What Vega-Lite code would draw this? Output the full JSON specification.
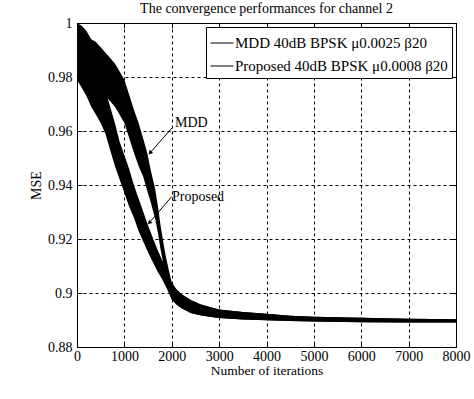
{
  "$schema": "https://vega.github.io/schema/vega-lite/v6.json",
  "width": 379,
  "height": 324,
  "autosize": {"type": "none"},
  "padding": {"left": 77, "top": 23, "right": 18, "bottom": 52},
  "background": "white",
  "title": {"text": "The convergence performances for channel 2", "font": "Liberation Serif", "fontSize": 14, "fontWeight": "normal", "color": "black", "offset": 0},
  "config": {
    "view": {"stroke": "black", "strokeWidth": 1},
    "axis": {
      "labelFont": "Liberation Serif", "titleFont": "Liberation Serif",
      "labelFontSize": 14, "titleFontSize": 14, "titleFontWeight": "normal",
      "labelColor": "black", "titleColor": "black",
      "domain": false, "gridColor": "black", "gridDash": [3, 3], "gridOpacity": 1, "gridWidth": 1,
      "tickColor": "black", "tickSize": -5, "tickWidth": 1
    }
  },
  "datasets": {
    "curves": [
      {"s": "Proposed", "x": 0, "y": 0.989, "lo": 0.979, "hi": 0.998},
      {"s": "Proposed", "x": 100, "y": 0.986, "lo": 0.976, "hi": 0.995},
      {"s": "Proposed", "x": 200, "y": 0.983, "lo": 0.973, "hi": 0.992},
      {"s": "Proposed", "x": 300, "y": 0.979, "lo": 0.969, "hi": 0.988},
      {"s": "Proposed", "x": 400, "y": 0.975, "lo": 0.966, "hi": 0.983},
      {"s": "Proposed", "x": 500, "y": 0.972, "lo": 0.963, "hi": 0.980},
      {"s": "Proposed", "x": 600, "y": 0.967, "lo": 0.959, "hi": 0.975},
      {"s": "Proposed", "x": 700, "y": 0.961, "lo": 0.953, "hi": 0.969},
      {"s": "Proposed", "x": 800, "y": 0.955, "lo": 0.947, "hi": 0.963},
      {"s": "Proposed", "x": 900, "y": 0.949, "lo": 0.942, "hi": 0.956},
      {"s": "Proposed", "x": 1000, "y": 0.944, "lo": 0.937, "hi": 0.951},
      {"s": "Proposed", "x": 1100, "y": 0.939, "lo": 0.932, "hi": 0.946},
      {"s": "Proposed", "x": 1200, "y": 0.934, "lo": 0.928, "hi": 0.940},
      {"s": "Proposed", "x": 1300, "y": 0.929, "lo": 0.923, "hi": 0.935},
      {"s": "Proposed", "x": 1400, "y": 0.9245, "lo": 0.919, "hi": 0.930},
      {"s": "Proposed", "x": 1500, "y": 0.920, "lo": 0.915, "hi": 0.925},
      {"s": "Proposed", "x": 1600, "y": 0.916, "lo": 0.9115, "hi": 0.9205},
      {"s": "Proposed", "x": 1700, "y": 0.912, "lo": 0.908, "hi": 0.916},
      {"s": "Proposed", "x": 1800, "y": 0.9085, "lo": 0.905, "hi": 0.912},
      {"s": "Proposed", "x": 1900, "y": 0.905, "lo": 0.9015, "hi": 0.9085},
      {"s": "Proposed", "x": 2000, "y": 0.9005, "lo": 0.8975, "hi": 0.9035},
      {"s": "Proposed", "x": 2100, "y": 0.8985, "lo": 0.8957, "hi": 0.9013},
      {"s": "Proposed", "x": 2200, "y": 0.897, "lo": 0.8944, "hi": 0.8996},
      {"s": "Proposed", "x": 2400, "y": 0.895, "lo": 0.8926, "hi": 0.8974},
      {"s": "Proposed", "x": 2600, "y": 0.8938, "lo": 0.8918, "hi": 0.8958},
      {"s": "Proposed", "x": 2800, "y": 0.8930, "lo": 0.8912, "hi": 0.8948},
      {"s": "Proposed", "x": 3000, "y": 0.8923, "lo": 0.8907, "hi": 0.8939},
      {"s": "Proposed", "x": 3500, "y": 0.8916, "lo": 0.8902, "hi": 0.8930},
      {"s": "Proposed", "x": 4000, "y": 0.8911, "lo": 0.8899, "hi": 0.8923},
      {"s": "Proposed", "x": 4500, "y": 0.8906, "lo": 0.8896, "hi": 0.8916},
      {"s": "Proposed", "x": 5000, "y": 0.8903, "lo": 0.8894, "hi": 0.8912},
      {"s": "Proposed", "x": 6000, "y": 0.8900, "lo": 0.8892, "hi": 0.8908},
      {"s": "Proposed", "x": 7000, "y": 0.8898, "lo": 0.8891, "hi": 0.8905},
      {"s": "Proposed", "x": 8000, "y": 0.8897, "lo": 0.8891, "hi": 0.8903},
      {"s": "MDD", "x": 0, "y": 0.991, "lo": 0.981, "hi": 1.0},
      {"s": "MDD", "x": 100, "y": 0.990, "lo": 0.980, "hi": 0.999},
      {"s": "MDD", "x": 200, "y": 0.988, "lo": 0.978, "hi": 0.997},
      {"s": "MDD", "x": 300, "y": 0.986, "lo": 0.977, "hi": 0.994},
      {"s": "MDD", "x": 400, "y": 0.985, "lo": 0.976, "hi": 0.993},
      {"s": "MDD", "x": 500, "y": 0.983, "lo": 0.975, "hi": 0.991},
      {"s": "MDD", "x": 600, "y": 0.981, "lo": 0.973, "hi": 0.989},
      {"s": "MDD", "x": 700, "y": 0.979, "lo": 0.971, "hi": 0.987},
      {"s": "MDD", "x": 800, "y": 0.977, "lo": 0.969, "hi": 0.985},
      {"s": "MDD", "x": 900, "y": 0.974, "lo": 0.966, "hi": 0.982},
      {"s": "MDD", "x": 1000, "y": 0.971, "lo": 0.963, "hi": 0.979},
      {"s": "MDD", "x": 1100, "y": 0.9655, "lo": 0.9575, "hi": 0.9735},
      {"s": "MDD", "x": 1200, "y": 0.960, "lo": 0.952, "hi": 0.968},
      {"s": "MDD", "x": 1300, "y": 0.955, "lo": 0.947, "hi": 0.963},
      {"s": "MDD", "x": 1400, "y": 0.950, "lo": 0.943, "hi": 0.957},
      {"s": "MDD", "x": 1480, "y": 0.945, "lo": 0.938, "hi": 0.952},
      {"s": "MDD", "x": 1550, "y": 0.940, "lo": 0.934, "hi": 0.946},
      {"s": "MDD", "x": 1650, "y": 0.933, "lo": 0.9275, "hi": 0.9385},
      {"s": "MDD", "x": 1710, "y": 0.927, "lo": 0.922, "hi": 0.932},
      {"s": "MDD", "x": 1760, "y": 0.921, "lo": 0.9165, "hi": 0.9255},
      {"s": "MDD", "x": 1820, "y": 0.915, "lo": 0.911, "hi": 0.919},
      {"s": "MDD", "x": 1870, "y": 0.910, "lo": 0.906, "hi": 0.914},
      {"s": "MDD", "x": 1950, "y": 0.904, "lo": 0.9005, "hi": 0.9075},
      {"s": "MDD", "x": 2000, "y": 0.901, "lo": 0.898, "hi": 0.904},
      {"s": "MDD", "x": 2100, "y": 0.8985, "lo": 0.8957, "hi": 0.9013},
      {"s": "MDD", "x": 2200, "y": 0.897, "lo": 0.8944, "hi": 0.8996},
      {"s": "MDD", "x": 2400, "y": 0.895, "lo": 0.8926, "hi": 0.8974},
      {"s": "MDD", "x": 2600, "y": 0.8938, "lo": 0.8918, "hi": 0.8958},
      {"s": "MDD", "x": 2800, "y": 0.8930, "lo": 0.8912, "hi": 0.8948},
      {"s": "MDD", "x": 3000, "y": 0.8923, "lo": 0.8907, "hi": 0.8939},
      {"s": "MDD", "x": 3500, "y": 0.8916, "lo": 0.8902, "hi": 0.8930},
      {"s": "MDD", "x": 4000, "y": 0.8911, "lo": 0.8899, "hi": 0.8923},
      {"s": "MDD", "x": 4500, "y": 0.8906, "lo": 0.8896, "hi": 0.8916},
      {"s": "MDD", "x": 5000, "y": 0.8903, "lo": 0.8894, "hi": 0.8912},
      {"s": "MDD", "x": 6000, "y": 0.8900, "lo": 0.8892, "hi": 0.8908},
      {"s": "MDD", "x": 7000, "y": 0.8898, "lo": 0.8891, "hi": 0.8905},
      {"s": "MDD", "x": 8000, "y": 0.8897, "lo": 0.8891, "hi": 0.8903}
    ],
    "arrows": [
      {"x1": 2005, "y1": 0.9611, "x2": 1541, "y2": 0.9519, "ang": 221},
      {"x1": 1999, "y1": 0.9357, "x2": 1526, "y2": 0.9260, "ang": 224}
    ],
    "labels": [
      {"x": 2069, "y": 0.963, "t": "MDD"},
      {"x": 2005, "y": 0.9356, "t": "Proposed"}
    ]
  },
  "layer": [
    {
      "data": {"name": "curves"},
      "mark": {"type": "area", "color": "black", "clip": true},
      "encoding": {
        "x": {"field": "x", "type": "quantitative", "scale": {"domain": [0, 8000], "nice": false},
              "axis": {"orient": "bottom", "grid": true, "values": [0, 1000, 2000, 3000, 4000, 5000, 6000, 7000, 8000], "format": "d", "title": "Number of iterations", "labelPadding": 7, "titlePadding": 0, "titleFontSize": 13.5, "labelFlush": false}},
        "y": {"field": "lo", "type": "quantitative", "scale": {"domain": [0.88, 1], "nice": false, "zero": false},
              "axis": {"orient": "left", "grid": true, "values": [0.88, 0.9, 0.92, 0.94, 0.96, 0.98, 1], "format": "~g", "title": "MSE", "labelPadding": 10, "titlePadding": 4, "labelFlush": false}},
        "y2": {"field": "hi"},
        "detail": {"field": "s"}
      }
    },
    {
      "data": {"name": "curves"},
      "mark": {"type": "line", "strokeWidth": 1, "clip": true},
      "encoding": {
        "x": {"field": "x", "type": "quantitative",
              "axis": {"orient": "top", "grid": false, "labels": false, "title": null, "values": [0, 1000, 2000, 3000, 4000, 5000, 6000, 7000, 8000]}},
        "y": {"field": "y", "type": "quantitative",
              "axis": {"orient": "right", "grid": false, "labels": false, "title": null, "values": [0.88, 0.9, 0.92, 0.94, 0.96, 0.98, 1]}},
        "color": {"field": "s", "type": "nominal",
                  "scale": {"domain": ["MDD", "Proposed"], "range": ["black", "black"]},
                  "legend": {"orient": "top-right", "offset": 4, "title": null, "fillColor": "white", "strokeColor": "black", "padding": 4,
                             "symbolType": "stroke", "symbolSize": 529, "symbolStrokeWidth": 1,
                             "labelFont": "Liberation Serif", "labelFontSize": 15, "labelColor": "black", "labelOffset": 1, "rowPadding": 3, "labelLimit": 400,
                             "labelExpr": "datum.label == 'MDD' ? 'MDD 40dB BPSK μ0.0025 β20' : 'Proposed 40dB BPSK μ0.0008 β20'"}}
      }
    },
    {
      "data": {"name": "arrows"},
      "mark": {"type": "rule", "color": "black", "strokeWidth": 1},
      "encoding": {
        "x": {"field": "x1", "type": "quantitative", "axis": null},
        "y": {"field": "y1", "type": "quantitative", "axis": null},
        "x2": {"field": "x2"},
        "y2": {"field": "y2"}
      }
    },
    {
      "data": {"name": "arrows"},
      "mark": {"type": "point", "shape": "triangle-up", "filled": true, "color": "black", "size": 22, "opacity": 1},
      "encoding": {
        "x": {"field": "x2", "type": "quantitative", "axis": null},
        "y": {"field": "y2", "type": "quantitative", "axis": null},
        "angle": {"field": "ang", "type": "quantitative", "scale": null}
      }
    },
    {
      "data": {"name": "labels"},
      "mark": {"type": "text", "font": "Liberation Serif", "fontSize": 14, "align": "left", "baseline": "middle", "color": "black"},
      "encoding": {
        "x": {"field": "x", "type": "quantitative", "axis": null},
        "y": {"field": "y", "type": "quantitative", "axis": null},
        "text": {"field": "t"}
      }
    }
  ],
  "resolve": {"axis": {"x": "independent", "y": "independent"}}
}
